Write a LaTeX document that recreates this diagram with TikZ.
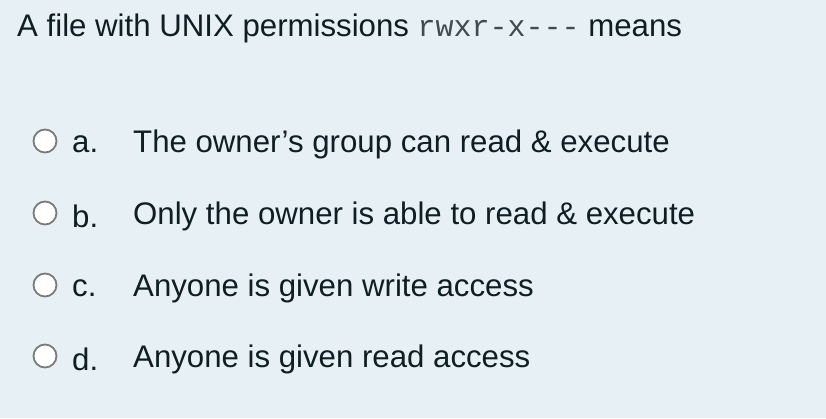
\documentclass[tikz,border=0pt]{standalone}
\usepackage{fontspec}
\setmainfont{Liberation Sans}
\setmonofont{Liberation Mono}
\definecolor{bg}{HTML}{E7F1F5}
\definecolor{tx}{HTML}{0F1E24}
\definecolor{rim}{HTML}{7A7A7A}
\begin{document}
\begin{tikzpicture}[x=1pt,y=-1pt,
  txt/.style={anchor=west,inner sep=0pt,text=tx,font=\fontsize{31.2}{34}\selectfont},
  radio/.style={circle,draw=rim,line width=1.8pt,fill=white,minimum size=23pt,inner sep=0pt}]
\fill[bg] (0,0) rectangle (826,418);
\useasboundingbox (0,0) rectangle (826,418);
\node[txt] (title) at (17,28) {A file with UNIX permissions {\ttfamily\fontsize{30}{32}\selectfont\color{tx!80}rwxr-x---} means};
\foreach \n/\y/\l/\t in {a/144/a./{The owner’s group can read \& execute},
  b/216/b./{Only the owner is able to read \& execute},
  c/288/c./{Anyone is given write access},
  d/359/d./{Anyone is given read access}}{
  \node[radio] (r\n) at (45,\y-3) {};
  \node[txt] (l\n) at (72,\y) {\l};
  \node[txt] (t\n) at (133,\y) {\t};
}
\end{tikzpicture}
\end{document}
